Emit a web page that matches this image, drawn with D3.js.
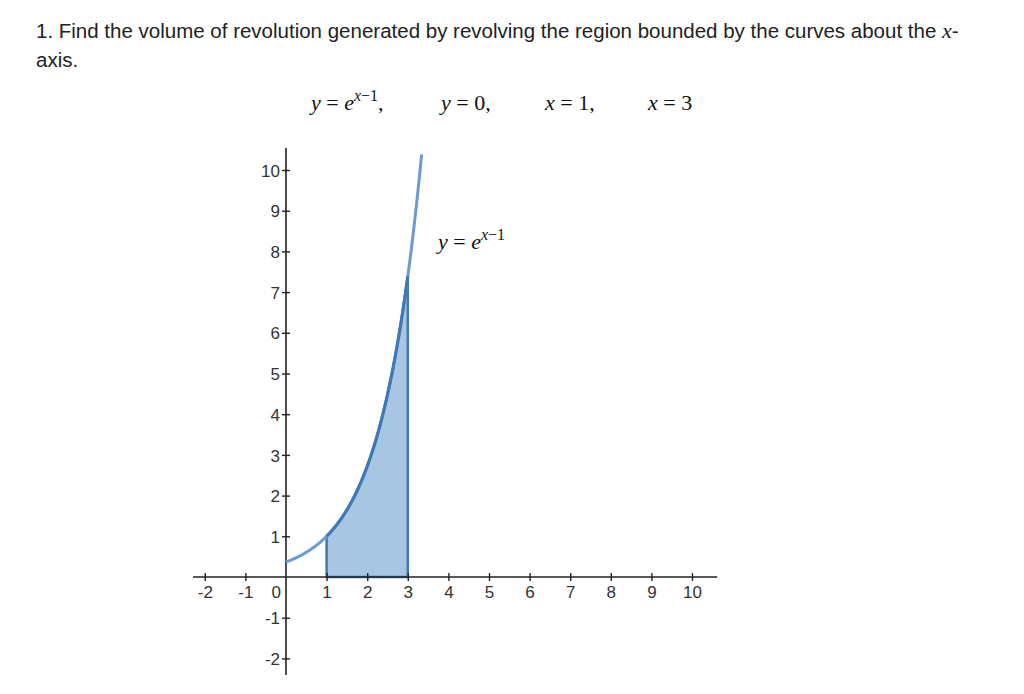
<!DOCTYPE html>
<html><head><meta charset="utf-8">
<script src="https://cdn.jsdelivr.net/npm/d3@7"></script>
<style>
body{margin:0;background:#fff;}
.q{font-family:"Liberation Sans",Arial,sans-serif;font-size:20.5px;fill:#222;}
.m{font-family:"Liberation Serif","DejaVu Serif",serif;font-size:22px;fill:#111;}
.m .i{font-style:italic;}
</style></head>
<body><svg id="c" width="1024" height="694"></svg>
<script>
const xTicks = [-2, -1, 1, 2, 3, 4, 5, 6, 7, 8, 9, 10];
const yTicks = [-2, -1, 1, 2, 3, 4, 5, 6, 7, 8, 9, 10];
const curveXs = d3.range(0, 3.36, 0.02);
const regionXs = d3.range(1, 3.001, 0.02);
const f = x => Math.exp(x - 1);

const svg = d3.select('#c');
const x = d3.scaleLinear().domain([0, 10]).range([286, 692]);
const y = d3.scaleLinear().domain([0, 10]).range([577, 170]);

svg.append('text').attr('class', 'q').attr('x', 36).attr('y', 38)
  .html('1. Find the volume of revolution generated by revolving the region bounded by the curves about the <tspan font-family="Liberation Serif" font-style="italic" font-size="22">x</tspan>-');
svg.append('text').attr('class', 'q').attr('x', 36).attr('y', 67).text('axis.');

const expo = '<tspan class="i">y</tspan> = <tspan class="i">e</tspan><tspan dy="-9" font-size="16"><tspan class="i">x</tspan>−1</tspan>';
const mathTop = [
  {x: 311, html: expo + '<tspan dy="9">,</tspan>'},
  {x: 441, html: '<tspan class="i">y</tspan> = 0,'},
  {x: 545, html: '<tspan class="i">x</tspan> = 1,'},
  {x: 648, html: '<tspan class="i">x</tspan> = 3'}
];
mathTop.forEach(d => svg.append('text').attr('class', 'm').attr('x', d.x).attr('y', 110).html(d.html));
svg.append('text').attr('class', 'm').attr('x', 438).attr('y', 249).html(expo);

// shaded region
const area = d3.area().x(d => x(d)).y0(y(0)).y1(d => y(f(d)));
svg.append('path').datum(regionXs).attr('d', area)
  .attr('fill', '#a8c5e2').attr('stroke', '#3f78b6').attr('stroke-width', 2.5);

const labelFont = '"Liberation Sans",Arial,sans-serif';

// axes
const xAxis = d3.axisBottom(x).tickValues(xTicks).tickSize(4).tickPadding(5).tickFormat(String);
const gx = svg.append('g').attr('transform', `translate(0,${y(0)})`).call(xAxis)
  .attr('font-size', 17).attr('font-family', labelFont);
gx.select('.domain').attr('d', `M${x(-2.29)},0H${x(10.62)}`).attr('stroke', '#222').attr('stroke-width', 1.6);
gx.selectAll('.tick line').attr('y1', -4).attr('stroke', '#222').attr('stroke-width', 1.4);
gx.selectAll('.tick text').attr('fill', '#333');

const yAxis = d3.axisLeft(y).tickValues(yTicks).tickSize(4).tickPadding(2).tickFormat(String);
const gy = svg.append('g').attr('transform', `translate(${x(0)},0)`).call(yAxis)
  .attr('font-size', 17).attr('font-family', labelFont);
gy.select('.domain').attr('d', `M0,${y(10.54)}V${y(-2.41)}`).attr('stroke', '#222').attr('stroke-width', 1.6);
gy.selectAll('.tick line').attr('x1', 4).attr('stroke', '#222').attr('stroke-width', 1.4);
gy.selectAll('.tick text').attr('dy', '0.36em').attr('fill', '#333');
svg.append('text').attr('x', x(0) - 5).attr('y', y(0) + 21).attr('text-anchor', 'end')
  .attr('font-family', labelFont).attr('font-size', 17).attr('fill', '#333').text('0');

// curve
const line = d3.line().x(d => x(d)).y(d => y(f(d)));
svg.append('path').datum(curveXs).attr('d', line)
  .attr('fill', 'none').attr('stroke', '#6b9bd0').attr('stroke-width', 3);
svg.append('path').datum(regionXs).attr('d', line)
  .attr('fill', 'none').attr('stroke', '#3f78b6').attr('stroke-width', 3);
</script></body></html>
